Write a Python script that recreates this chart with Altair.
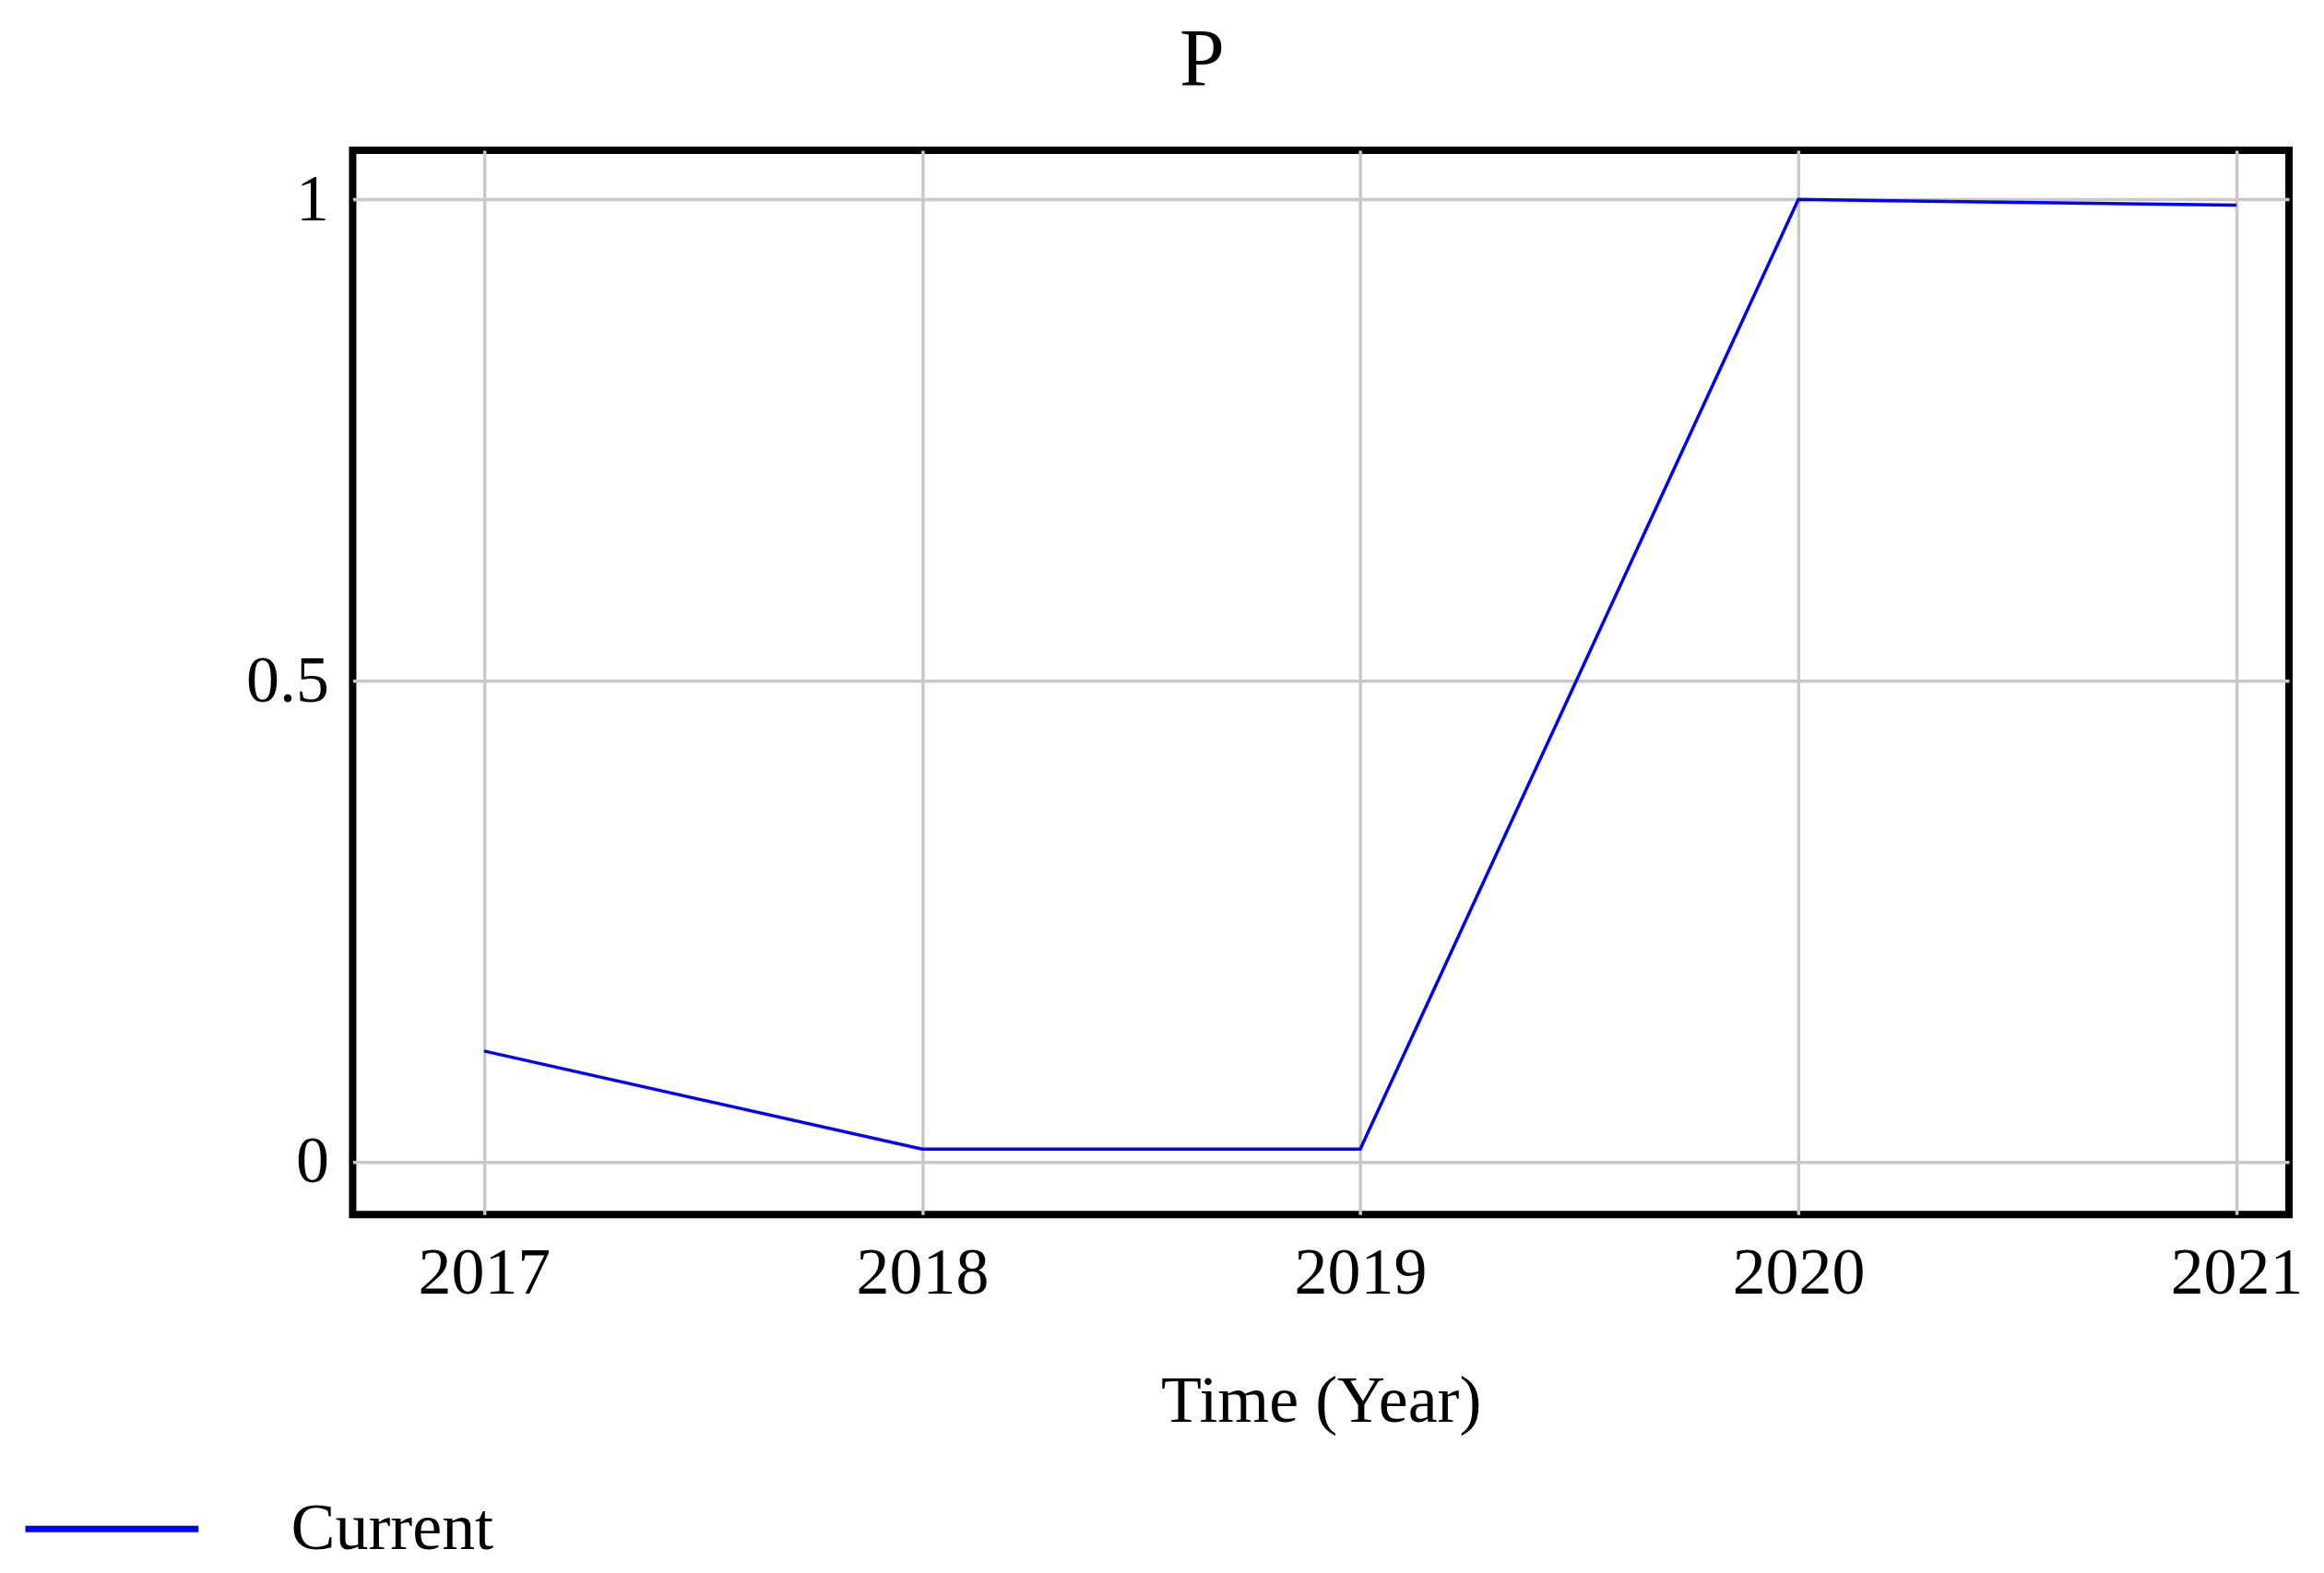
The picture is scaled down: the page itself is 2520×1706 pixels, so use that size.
import altair as alt
import pandas as pd

years = [2017, 2018, 2019, 2020, 2021]
values = [0.115, 0.013, 0.013, 1.0, 0.994]
series = ["Current"] * 5
x_ticks = [2017, 2018, 2019, 2020, 2021]
y_ticks = [0, 0.5, 1]

df = pd.DataFrame({"Time": years, "P": values, "series": series})

FONT = "Liberation Serif"

chart = alt.Chart(df).mark_line(strokeWidth=3.5, clip=False).encode(
    x=alt.X("Time:Q",
            scale=alt.Scale(domain=[2016.7, 2021.12], nice=False, zero=False),
            axis=alt.Axis(values=x_ticks, format="d", title="Time (Year)",
                          titleBaseline="alphabetic", titleY=225,
                          labelPadding=28)),
    y=alt.Y("P:Q",
            scale=alt.Scale(domain=[-0.055, 1.051], nice=False, zero=False),
            axis=alt.Axis(values=y_ticks, format="~g", title=None,
                          labelPadding=26)),
    color=alt.Color("series:N",
                    scale=alt.Scale(domain=["Current"], range=["#0000ff"]),
                    legend=alt.Legend(title=None, orient="none",
                                      legendX=-359, legendY=1400,
                                      symbolType="stroke", symbolSize=35344,
                                      symbolStrokeWidth=7, labelOffset=97,
                                      labelFontSize=72, labelFont=FONT,
                                      labelColor="#000000", labelLimit=0,
                                      padding=0)),
).properties(
    width=2103,
    height=1156,
    title=alt.TitleParams("P", fontSize=88, font=FONT, fontWeight="normal",
                          color="#000000", anchor="middle", dx=-129, dy=83,
                          offset=66, baseline="alphabetic"),
    autosize=alt.AutoSizeParams(type="none"),
    padding={"left": 375, "top": 154, "right": 30, "bottom": 380},
).configure_view(
    stroke="#000000", strokeWidth=8
).configure_axis(
    labelFont=FONT, labelFontSize=72, labelColor="#000000",
    titleFont=FONT, titleFontSize=72, titleColor="#000000",
    titleFontWeight="normal",
    domain=False, ticks=False,
    grid=True, gridColor="#c8c8c8", gridWidth=3.5, gridOpacity=1,
)

chart.save("out.html", embed_options={"renderer": "svg", "actions": False})
